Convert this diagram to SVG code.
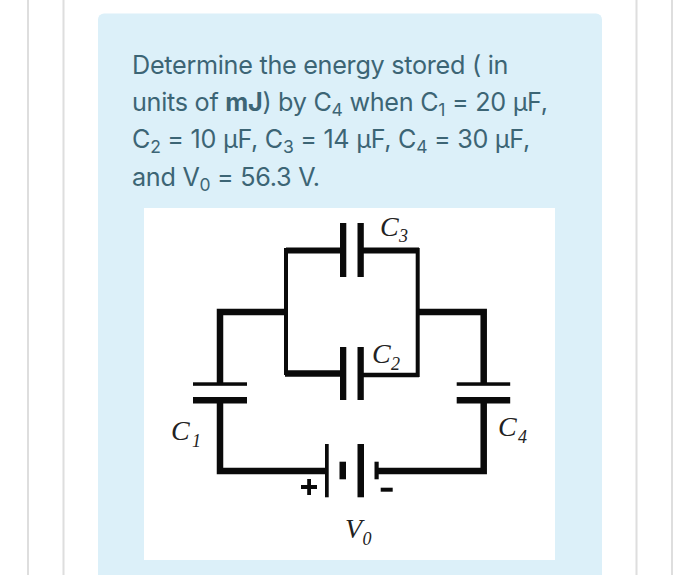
<svg xmlns="http://www.w3.org/2000/svg" width="700" height="575" viewBox="0 0 700 575">
<style>
.t{font:25.2px Inter,"Liberation Sans",sans-serif;fill:#3c6575;letter-spacing:-.28px}
.s{font-size:17.5px}
.b{font-weight:700}
.w{stroke:#0a0a0a;fill:none;stroke-linejoin:miter}
.p{fill:#0a0a0a}
.c{font:italic 28px "Liberation Serif",serif;fill:#222}
.u{font:italic 18px "Liberation Serif",serif;fill:#222}
.g{stroke:#dedede;stroke-width:2}
</style>
<rect width="700" height="575" fill="#fff"/>
<g id="frame">
<line class="g" x1="28" y1="0" x2="28" y2="575"/>
<line class="g" x1="63.500" y1="0" x2="63.500" y2="575"/>
<line class="g" x1="636.500" y1="0" x2="636.500" y2="575"/>
<line class="g" x1="672" y1="0" x2="672" y2="575"/>
</g>
<rect id="panel" x="98" y="13.500" width="504" height="570" rx="6" fill="#dcf0f9"/>
<g id="question">
<text class="t" x="132" y="74">Determine the energy stored ( in</text>
<text class="t" x="132" y="111">units of <tspan class="b">mJ</tspan>) by C<tspan class="s" dy="5">4</tspan><tspan dy="-5"> when C</tspan><tspan class="s" dy="5">1</tspan><tspan dy="-5"> = 20 µF,</tspan></text>
<text class="t" x="132" y="148">C<tspan class="s" dy="5">2</tspan><tspan dy="-5"> = 10 µF, C</tspan><tspan class="s" dy="5">3</tspan><tspan dy="-5"> = 14 µF, C</tspan><tspan class="s" dy="5">4</tspan><tspan dy="-5"> = 30 µF,</tspan></text>
<text class="t" x="132" y="185.500">and V<tspan class="s" dy="5">0</tspan><tspan dy="-5"> = 56.3 V.</tspan></text>
</g>
<rect id="figure" x="144" y="208" width="411" height="352" fill="#fff"/>
<g id="connectors">
<path class="w" stroke-width="6" d="M340 250.500H286M363 250.500H419"/>
<path class="w" stroke-width="4" d="M286 248V375M417.700 248V377"/>
<path class="w" stroke-width="6.500" d="M286 312H220V384M418 312H483.700V384"/>
<path class="w" stroke-width="6.500" d="M285 373.500H340"/>
<path class="w" stroke-width="4.500" d="M363 375H419"/>
<path class="w" stroke-width="6.500" d="M220 402V471H326M483.700 402V471H377"/>
</g>
<g id="C3"><rect class="p" x="340" y="223" width="6.300" height="54"/><rect class="p" x="357.500" y="223" width="6.300" height="54"/><text class="c" x="380" y="235.500">C</text><text class="u" x="399" y="242">3</text></g>
<g id="C2"><rect class="p" x="340" y="347" width="6.300" height="53"/><rect class="p" x="357.500" y="347" width="6.300" height="53"/><text class="c" x="372" y="363">C</text><text class="u" x="391" y="369.500">2</text></g>
<g id="C1"><rect class="p" x="193" y="382.300" width="54" height="3.500"/><rect class="p" x="193" y="397" width="54" height="6.500"/><text class="c" x="171" y="440">C</text><text class="u" x="192" y="447">1</text></g>
<g id="C4"><rect class="p" x="456.700" y="382.300" width="53.500" height="3.500"/><rect class="p" x="456.700" y="397" width="53.500" height="6.500"/><text class="c" x="498" y="436">C</text><text class="u" x="518" y="443">4</text></g>
<g id="V0">
<rect class="p" x="325" y="444" width="3.700" height="53.300"/>
<rect class="p" x="339.500" y="461.700" width="6.500" height="17.600"/>
<rect class="p" x="357.500" y="444" width="6.500" height="53.300"/>
<rect class="p" x="374.500" y="461.700" width="4.200" height="17.600"/>
<path class="p" d="M301 485H307.200V479H311V485H317V489H311V495H307.200V489H301Z"/>
<rect class="p" x="380.700" y="487.700" width="12" height="4"/>
<text class="c" x="345" y="538">V</text><text class="u" x="362.500" y="545">0</text>
</g>
</svg>
